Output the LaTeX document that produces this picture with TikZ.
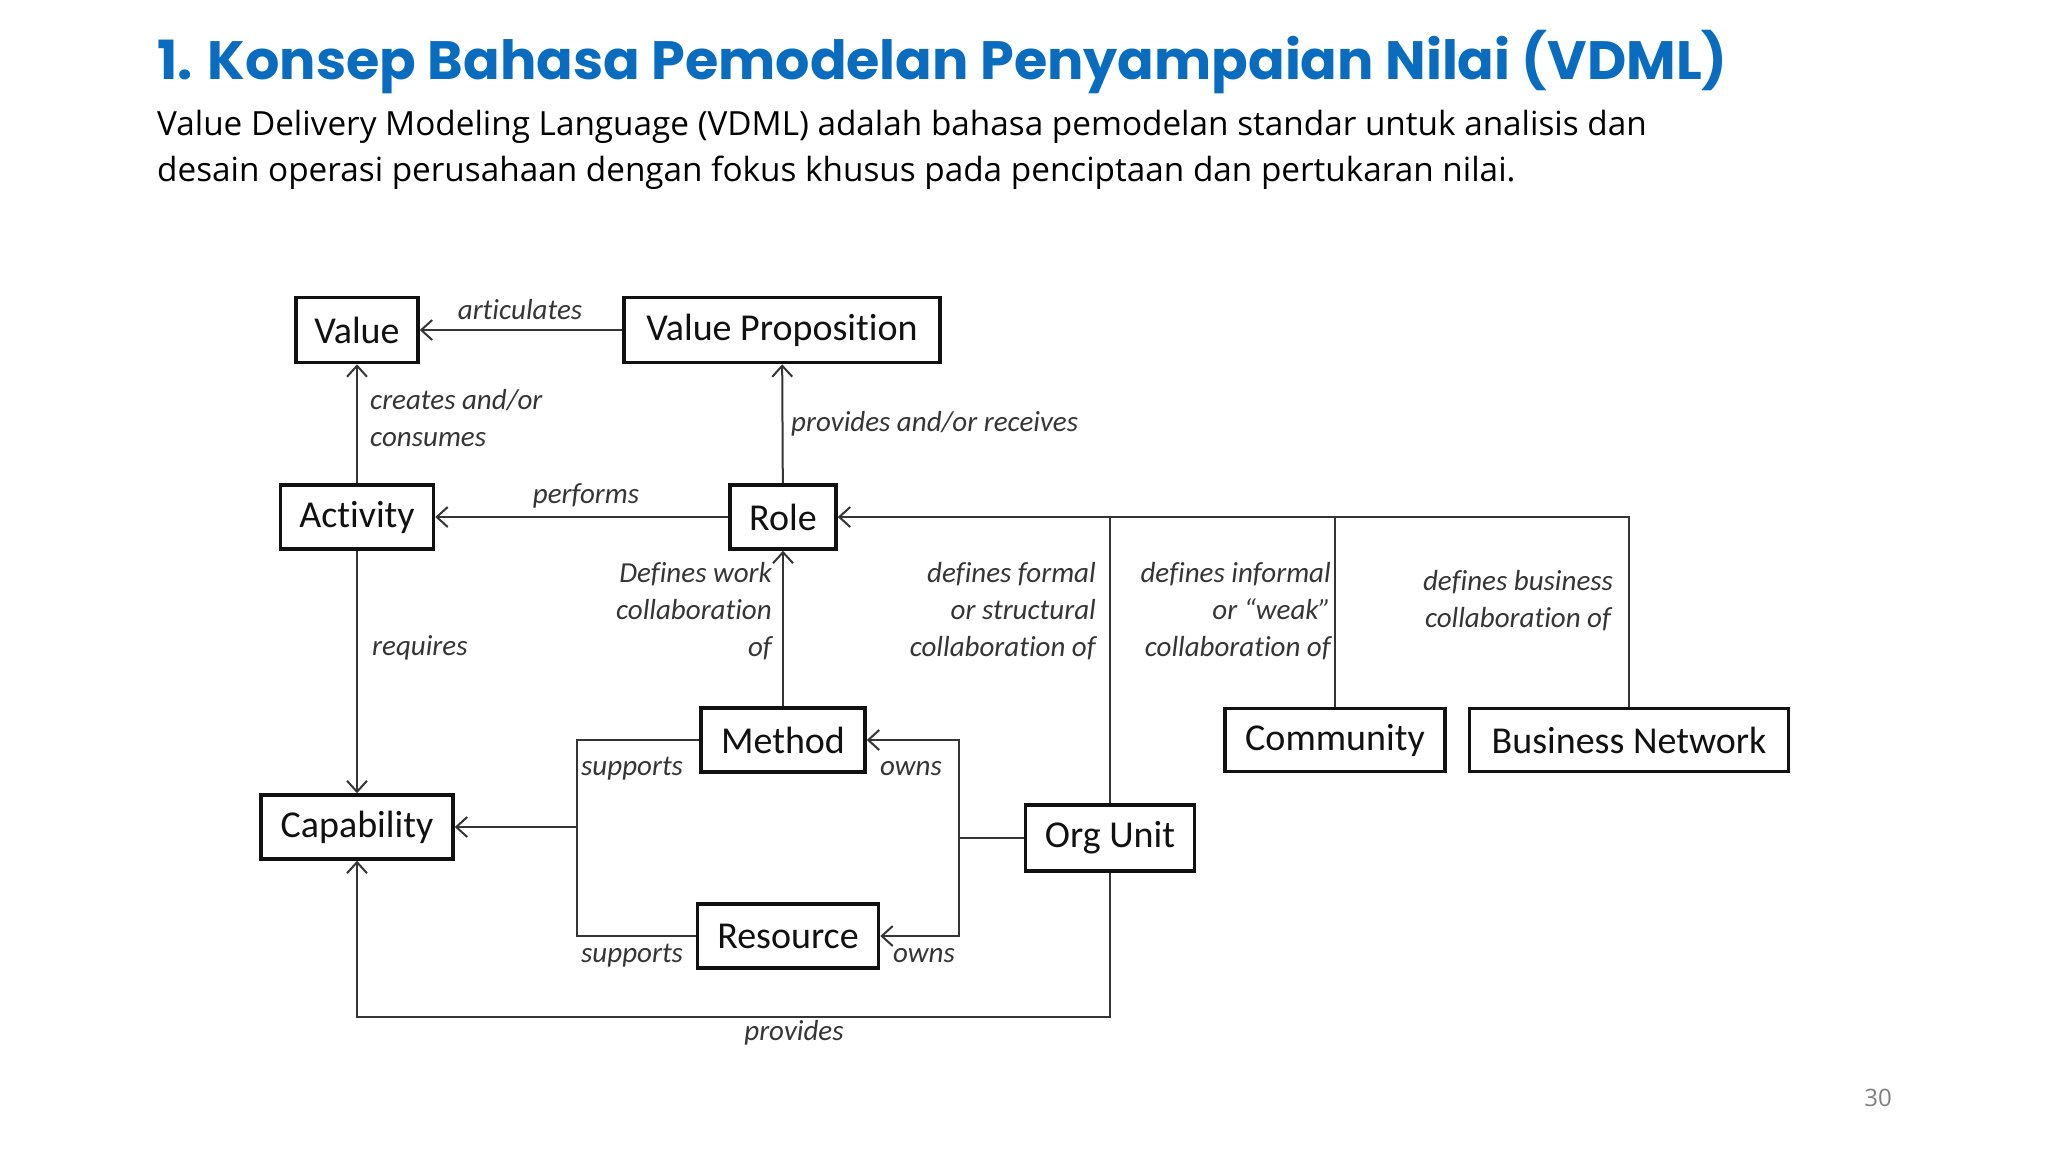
\documentclass[tikz,border=0pt]{standalone}
\usepackage{fontspec}
\setmainfont{Carlito}[Ligatures={NoCommon,NoRare}]
\newfontfamily\titlefont{Poppins}
\newfontfamily\bodyfont{Open Sans}
\usetikzlibrary{arrows.meta}
\definecolor{ttl}{HTML}{0A6CBF}
\definecolor{ink}{HTML}{111111}
\tikzset{
 box/.style={draw=ink,line width=3.5pt,inner sep=0pt,font=\fontsize{38}{42}\selectfont,text=ink},
 con/.style={draw=ink!85,line width=2pt},
 arr/.style={con,-{Straight Barb[length=11pt,width=20pt,line width=2pt]}},
 lbl/.style={font=\fontsize{29}{37}\selectfont\itshape,text=ink!85,inner sep=0pt},
}
\begin{document}
\begin{tikzpicture}[x=1pt,y=-1pt]
\useasboundingbox[fill=white] (0,0) rectangle (2048,1152);
\node[anchor=west,text=ttl,font=\fontsize{54}{60}\titlefont\bfseries,inner sep=0pt] (title) at (157,62) {1. Konsep Bahasa Pemodelan Penyampaian Nilai (VDML)};
\node[anchor=north west,align=left,text=black,font=\fontsize{33.3}{46}\bodyfont,inner sep=0pt] (sub) at (157,110) {Value Delivery Modeling Language (VDML) adalah bahasa pemodelan standar untuk analisis dan\\desain operasi perusahaan dengan fokus khusus pada penciptaan dan pertukaran nilai.};
\node[text=gray,font=\fontsize{24}{28}\bodyfont] (pg) at (1878,1098) {30};

\node[box,minimum width=122pt,minimum height=65pt] (val) at (357,330) {Value};
\node[box,minimum width=316pt,minimum height=65pt] (vp) at (782,330) {Value Proposition};
\node[box,minimum width=153pt,minimum height=64pt] (act) at (357,517) {Activity};
\node[box,minimum width=106pt,minimum height=64pt] (role) at (783,517) {Role};
\node[box,minimum width=164pt,minimum height=64pt] (meth) at (783,740) {Method};
\node[box,minimum width=220pt,minimum height=63pt] (comm) at (1335,740) {Community};
\node[box,minimum width=319pt,minimum height=63pt] (bn) at (1629,740) {Business Network};
\node[box,minimum width=192pt,minimum height=64pt] (cap) at (357,827) {Capability};
\node[box,minimum width=169pt,minimum height=66pt] (org) at (1110,838) {Org Unit};
\node[box,minimum width=181pt,minimum height=64pt] (res) at (788,936) {Resource};

\draw[arr] (vp) -- (val);
\draw[arr] (act) -- (val);
\draw[arr] (role) -- (vp);
\draw[arr] (role) -- (act);
\draw[arr] (meth) -- (role);
\draw[arr] (act) -- (cap);
\coordinate (rj) at (1629,517);
\draw[arr] (bn.north) -- (rj) -- (role.east);
\draw[con] (comm.north) -- (comm.north |- rj);
\draw[con] (org.north) -- (org.north |- rj);
\coordinate (sl) at (577,827);
\draw[con] (meth.west) -- (meth.west -| sl) -- (res.west -| sl) -- (res.west);
\draw[arr] (sl) -- (cap.east);
\coordinate (ow) at (959,838);
\draw[arr] (org.west) -- (ow) -- (ow |- meth.east) -- (meth.east);
\draw[arr] (ow) -- (ow |- res.east) -- (res.east);
\coordinate (pb) at (1110,1017);
\draw[arr] (org.south) -- (pb) -- (pb -| cap.south) -- (cap.south);

\node[lbl] (l1) at (520,310) {articulates};
\node[lbl,anchor=west,align=left] (l2) at (370,418) {creates and/or\\consumes};
\node[lbl,anchor=west] (l3) at (791,424) {provides and/or receives};
\node[lbl] (l4) at (586,496) {performs};
\node[lbl,anchor=east,align=right] (l5) at (772,611) {Defines work\\collaboration\\of};
\node[lbl,anchor=east,align=right] (l6) at (1096,611) {defines formal\\or structural\\collaboration of};
\node[lbl,anchor=east,align=right] (l7) at (1331,611) {defines informal\\or “weak”\\collaboration of};
\node[lbl,align=center] (l8) at (1518,601) {defines business\\collaboration of};
\node[lbl,anchor=west] (l9) at (372,648) {requires};
\node[lbl,anchor=west] (l10) at (581,769) {supports};
\node[lbl,anchor=west] (l11) at (880,769) {owns};
\node[lbl,anchor=west] (l12) at (581,956) {supports};
\node[lbl,anchor=west] (l13) at (893,956) {owns};
\node[lbl] (l14) at (794,1033) {provides};
\end{tikzpicture}
\end{document}
